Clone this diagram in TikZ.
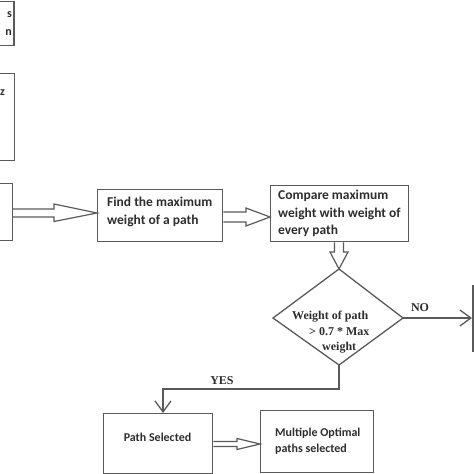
\documentclass[tikz,border=0pt]{standalone}
\usepackage{fontspec}
\setmainfont{Carlito}
\newfontfamily\serifb{Liberation Serif}
\usetikzlibrary{arrows.meta,calc}
\definecolor{linegray}{HTML}{5A5A5A}
\definecolor{textgray}{HTML}{2E2E2E}
\begin{document}
\begin{tikzpicture}[x=1pt,y=-1pt,
  box/.style={draw=linegray, line width=1.3pt, inner sep=0pt, anchor=north west},
  lbl/.style={font=\fontsize{13.5}{17.5}\selectfont\bfseries, text=textgray, align=left, anchor=west, inner sep=0pt},
  sml/.style={font=\fontsize{12}{16}\selectfont\bfseries, text=textgray, align=left, anchor=west, inner sep=0pt},
  srf/.style={font=\serifb\fontsize{12}{15.5}\selectfont\bfseries, text=textgray, align=left, inner sep=0pt},
  fat/.style={draw=linegray, line width=1.2pt, line join=miter},
  conn/.style={draw=linegray, line width=1.3pt, -{Straight Barb[length=11pt,width=16pt,line width=1.3pt]}},
  plain/.style={draw=linegray, line width=1.3pt}]
\useasboundingbox (0,0) rectangle (474,474);
\clip (0,0) rectangle (474,474);
\fill[white] (0,0) rectangle (474,474);

% partial boxes at the left edge
\node[box, minimum width=40pt, minimum height=44pt, anchor=north east] (l1) at (14.5,1) {};
\node[box, minimum width=40pt, minimum height=87pt, anchor=north east] (l2) at (15,73) {};
\node[box, minimum width=40pt, minimum height=57pt, anchor=north east] (l3) at (13,183) {};
\node[sml, anchor=east] (l1a) at (12,15) {s};
\node[sml, anchor=east] (l1b) at (12,33) {n};
\node[sml, anchor=east] (l2a) at (5,93) {z};

% main boxes
\node[box, minimum width=125pt, minimum height=52pt] (find) at (97,189) {};
\node[lbl] (findt) at (107,212) {Find the maximum\\weight of a path};

\node[box, minimum width=138pt, minimum height=56pt] (comp) at (270,185) {};
\node[lbl] (compt) at (278,213.5) {Compare maximum\\weight with weight of\\every path};

\node[box, minimum width=109pt, minimum height=60pt] (ps) at (103,413) {};
\node[sml, anchor=center] (pst) at (157.5,437) {Path Selected};

\node[box, minimum width=113pt, minimum height=62pt] (mult) at (260,410) {};
\node[sml] (multt) at (275,441) {Multiple Optimal\\paths selected};

% partial box at the right edge
\node[box, minimum width=40pt, minimum height=65pt, line width=2pt] (rbox) at (472,285) {};

% decision diamond
\coordinate (dtop) at (339,269);
\coordinate (dleft) at (273,318);
\coordinate (dright) at (403,318);
\coordinate (dbot) at (339,365);
\draw[plain, line join=miter] (dtop) -- (dright) -- (dbot) -- (dleft) -- cycle;
\node[srf, anchor=west] (dtext) at (292,332.5) {Weight of path\\\hspace*{17pt}> 0.7 * Max\\\hspace*{30pt}weight};

% hollow double arrows
\draw[fat] (l3.east |- 0,209) -- (54,209) -- (54,204) -- (find.west |- 0,213)
  -- (54,221.5) -- (54,217) -- (l3.east |- 0,217);
\draw[fat] (find.east |- 0,212) -- (246,212) -- (246,208) -- (comp.west |- 0,217)
  -- (246,226) -- (246,222) -- (find.east |- 0,222);
\draw[fat] (comp.south -| 334.5,0) -- (334.5,252) -- (330,252) -- (dtop)
  -- (348,252) -- (343.5,252) -- (comp.south -| 343.5,0);
\draw[fat] (ps.east |- 0,441.5) -- (237,441.5) -- (237,438.5) -- (mult.west |- 0,444)
  -- (237,449.5) -- (237,446.5) -- (ps.east |- 0,446.5);

% NO / YES connectors
\draw[conn] (dright) -- (rbox.west |- dright);
\node[srf, anchor=center] (nolbl) at (420,308) {NO};
\coordinate (yesc) at (163,389);
\draw[conn] (dbot) |- (yesc) -- (yesc |- ps.north);
\node[srf, anchor=center] (yeslbl) at (222,381) {YES};
\end{tikzpicture}
\end{document}
